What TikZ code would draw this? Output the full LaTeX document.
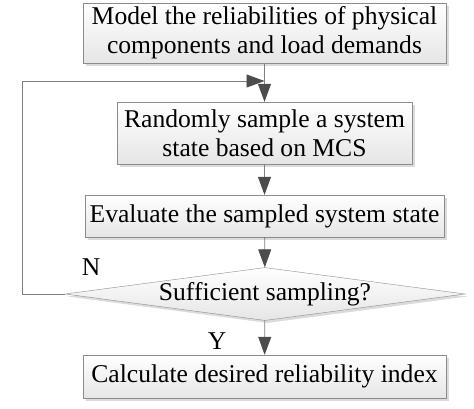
\documentclass[tikz,border=0pt]{standalone}
\usepackage{fontspec}
\setmainfont{Liberation Serif}
\usetikzlibrary{shapes.geometric,arrows.meta,shadows}

\tikzset{
  stepbox/.style={draw=black!45, top color=white, bottom color=black!10,
    drop shadow={shadow xshift=2.5pt, shadow yshift=-2.5pt, fill=black!20, opacity=0.7},
    align=center, inner sep=0pt, font=\fontsize{25.6}{29}\selectfont},
  decision/.style={stepbox, diamond, aspect=7.5, minimum width=400, minimum height=53},
  flow/.style={draw=black!50, line width=0.8pt,
    -{Triangle[length=18pt, width=13pt, color=black!70, fill=black!70]}},
  answer/.style={font=\fontsize{25.6}{29}\selectfont, inner sep=0pt}
}

\begin{document}
\begin{tikzpicture}[x=1pt,y=-1pt]
\useasboundingbox (0,0) rectangle (474,408);
\node[stepbox, minimum width=363, minimum height=60] (model) at (264.5,33) {Model the reliabilities of physical\\components and load demands};
\node[stepbox, minimum width=295, minimum height=62] (sample) at (264.5,133) {Randomly sample a system\\state based on MCS};
\node[stepbox, minimum width=359, minimum height=42] (evaluate) at (264.5,216) {Evaluate the sampled system state};
\node[decision] (check) at (265,294) {Sufficient sampling?};
\node[stepbox, minimum width=363, minimum height=43] (calc) at (264.5,376.5) {Calculate desired reliability index};
\coordinate (join) at (264.5,81);
\node[answer] (no) at (91,267) {N};
\node[answer] (yes) at (217,341) {Y};
\path[flow] (model) edge (sample)
            (sample) edge (evaluate)
            (evaluate) edge (check)
            (check) edge (calc);
\draw[flow] (check.west) -- ++(-42,0) |- (join);
\end{tikzpicture}
\end{document}
